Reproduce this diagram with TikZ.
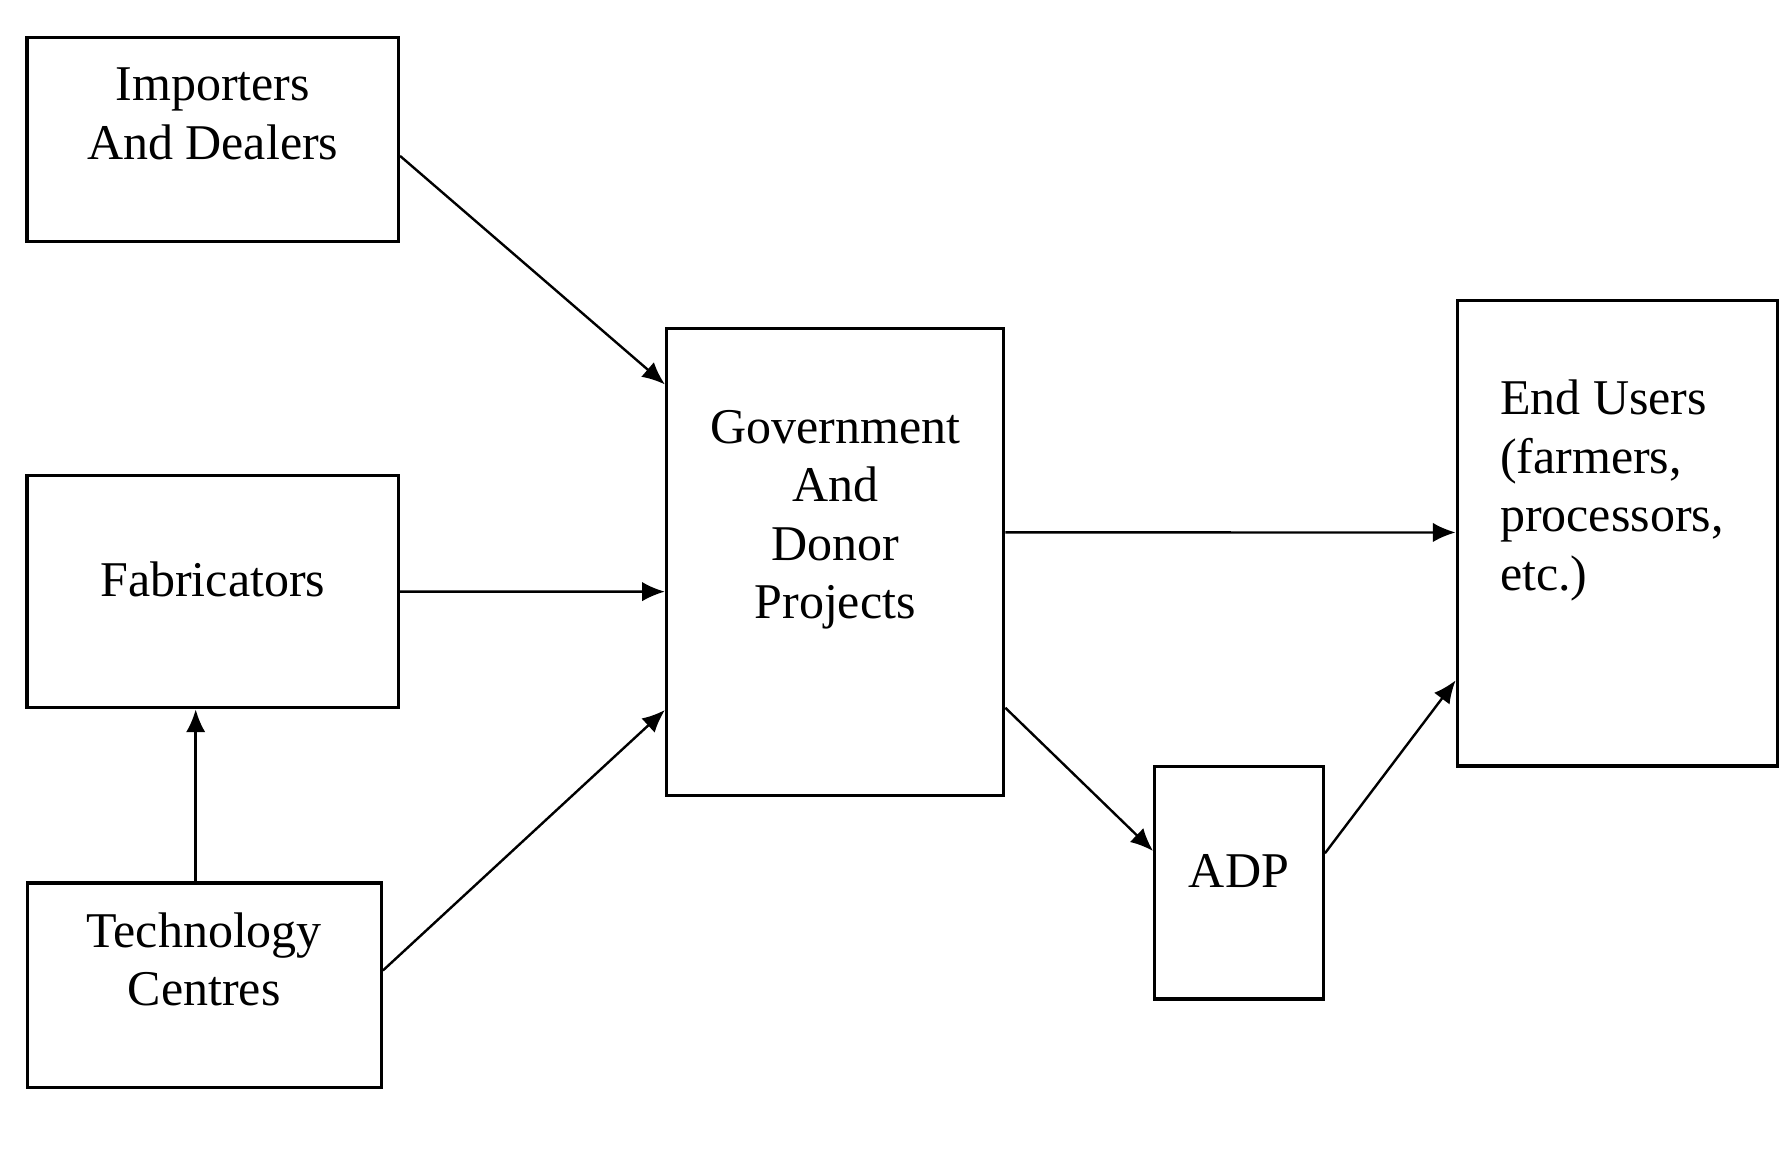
\documentclass[tikz,border=0pt]{standalone}
\usepackage{fontspec}
\setmainfont{Liberation Serif}
\usetikzlibrary{positioning, arrows.meta}
\tikzset{arrow/.style={-{Latex[length=0.2cm,width=0.17cm]}, line width=0.6pt}}

\begin{document}
\begin{tikzpicture}[
    x=0.01cm, y=-0.01cm,
    box/.style={rectangle, draw, line width=0.85pt, inner sep=0pt},
    lbl/.style={align=center, font=\fontsize{12.5}{14.6}\selectfont},
    every node/.style={font=\fontsize{12.5}{14.6}\selectfont}
]
\useasboundingbox (0,0) rectangle (1568,1013);

% Boxes
\node[box, minimum width=3.26cm, minimum height=1.79cm] (imp) at (187,122.5) {};
\node[box, minimum width=3.26cm, minimum height=2.04cm] (fab) at (187,520) {};
\node[box, minimum width=3.11cm, minimum height=1.80cm] (tech) at (179.5,866) {};
\node[box, minimum width=2.96cm, minimum height=4.10cm] (gov) at (734,494) {};
\node[box, minimum width=2.81cm, minimum height=4.09cm] (end) at (1421.5,468.5) {};
\node[box, minimum width=1.48cm, minimum height=2.04cm] (adp) at (1089,776) {};

% Texts
\node[lbl] (imp-t) at (187,100) {Importers\\And Dealers};
\node[lbl] (fab-t) at (187,509) {Fabricators};
\node[lbl] (tech-t) at (179.5,843) {Technology\\Centres};
\node[lbl] (gov-t) at (734,457) {Government\\And\\Donor\\Projects};
\node[lbl, align=left, anchor=west] (end-t) at (1306,431) {End Users\\(farmers,\\processors,\\etc.)};
\node[lbl] (adp-t) at (1089,766) {ADP};

% Connectors
\draw[arrow] ([yshift=-0.145cm]imp.east) -- ([yshift=1.56cm]gov.west);
\draw[arrow] (fab.east) -- ([yshift=-0.26cm]gov.west);
\draw[arrow] ([yshift=0.13cm]tech.east) -- ([yshift=-1.30cm]gov.west);
\draw[arrow] (tech.north -| 172,0) -- (fab.south -| 172,0);
\draw[arrow] ([yshift=0.26cm]gov.east) -- (end.west |- 0,468);
\draw[arrow] ([yshift=-1.28cm]gov.east) -- ([yshift=0.28cm]adp.west);
\draw[arrow] ([yshift=0.26cm]adp.east) -- (end.west |- 0,598);

\end{tikzpicture}
\end{document}
